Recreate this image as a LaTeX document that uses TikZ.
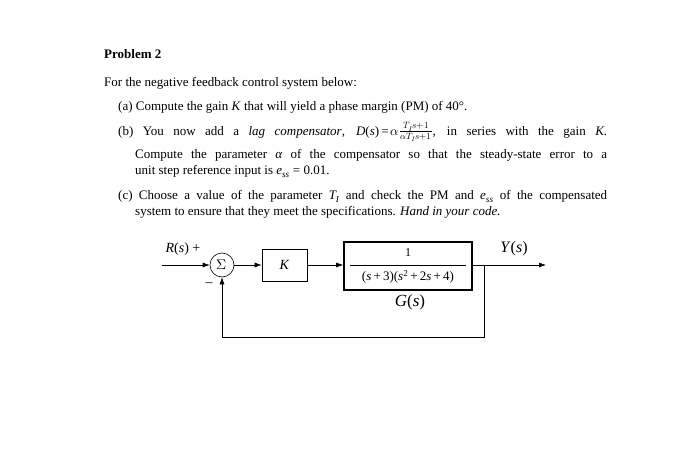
\documentclass[tikz,border=0pt]{standalone}
\usepackage{fontspec}
\setmainfont{Liberation Serif}
\usepackage{unicode-math}
\setmathfont{Latin Modern Math}
\usetikzlibrary{arrows.meta}
\tikzset{
  txt/.style={anchor=base west,inner sep=0pt,font=\fontsize{13}{16}\selectfont},
  para/.style={txt,text width=#1,align=justify},
  dg/.style={font=\fontsize{14}{16}\selectfont},
  blk/.style={draw,line width=0.7pt},
  wire/.style={line width=0.6pt},
  arr/.style={wire,-{Latex[length=7pt,width=5pt]}}
}
\newcommand{\itx}[1]{\textit{#1}}
\begin{document}
\begin{tikzpicture}[x=1pt,y=-1pt]
\useasboundingbox (0,0) rectangle (700,460);
\node[txt,font=\fontsize{13}{16}\selectfont\bfseries] (t0) at (104,58) {Problem 2};
\node[txt] (t1) at (104,86) {For the negative feedback control system below:};
\node[txt] (ta) at (118,110) {(a) Compute the gain \textit{K} that will yield a phase margin (PM) of 40°.};
\node[para=489pt] (tb1) at (118,135) {(b) You now add a \textit{lag compensator}, \textit{D}(\textit{s})\,=\,$\alpha\frac{\scriptstyle T_I s+1}{\scriptstyle \alpha T_I s+1}$, in series with the gain \textit{K}.\linebreak};
\node[para=472pt] (tb2) at (135,158) {Compute the parameter \textit{α} of the compensator so that the steady-state error to a\linebreak unit step reference input is \textit{e\textsubscript{ss}} = 0.01.};
\node[para=489pt] (tc1) at (118,199) {(c) Choose a value of the parameter \textit{T\textsubscript{I}} and check the PM and \textit{e\textsubscript{ss}} of the compensated\linebreak};
\node[txt] (tc2) at (135,215) {system to ensure that they meet the specifications. \textit{Hand in your code.}};
% diagram
\coordinate (in) at (162,265);
\node[draw,circle,minimum size=24pt,inner sep=0pt,wire,dg] (sum) at (222,265) {$\Sigma$};
\node[blk,minimum width=45pt,minimum height=32pt,dg] (k) at (284.5,265) {\itx{K}};
\node[draw,line width=1.6pt,minimum width=128pt,minimum height=48pt] (g) at (408,266) {};
\node[inner sep=0pt,font=\fontsize{12}{14}\selectfont] (num) at (408,253) {1};
\node[inner sep=0pt,font=\fontsize{13}{14}\selectfont] (den) at (408,277) {(\itx{s}\,+\,3)(\itx{s}\textsuperscript{2}\,+\,2\itx{s}\,+\,4)};
\draw[line width=0.5pt] (350,265) -- (466,265);
\node[dg,font=\fontsize{17}{18}\selectfont] (gl) at (410,302) {\itx{G}(\itx{s})};
\node[anchor=base,dg] (rl) at (183,252) {\itx{R}(\itx{s}) +};
\node[dg] (ml) at (209,285) {\textendash};
\node[anchor=base,dg,font=\fontsize{16}{18}\selectfont] (yl) at (514,252) {\itx{Y}(\itx{s})};
\coordinate (br) at (484,265);
\coordinate (out) at (546,265);
\coordinate (b1) at (484,337);
\coordinate (b2) at (222,337);
\draw[arr] (in) -- (sum);
\draw[arr] (sum) -- (k);
\draw[arr] (k) -- (g.west |- k);
\draw[arr] (g.east |- br) -- (out);
\draw[arr] (br) -- (b1) -- (b2) -- (sum);
\end{tikzpicture}
\end{document}
